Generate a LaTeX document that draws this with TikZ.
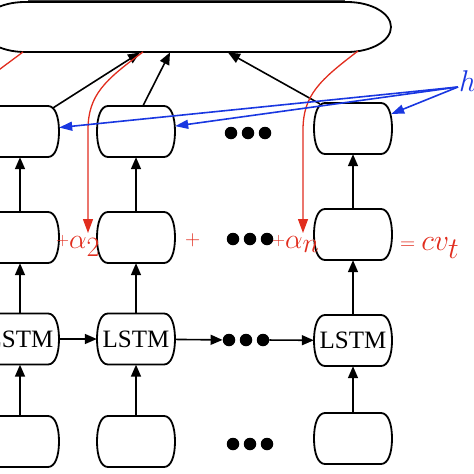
\RequirePackage{fix-cm}
\documentclass[tikz,border=0pt]{standalone}
\usepackage{fontspec}
\newfontfamily\lstmfont{Liberation Serif}
\usetikzlibrary{arrows.meta}
\definecolor{myred}{RGB}{225,45,30}
\definecolor{myblue}{RGB}{25,55,225}
\begin{document}
\begin{tikzpicture}[x=1pt,y=1pt,
  cell/.style={rectangle, minimum width=78pt, minimum height=51pt, inner sep=0pt, font=\lstmfont\fontsize{25}{25}\selectfont},
  cellline/.style={draw, line width=1.8pt, fill=white},
  blob/.style={circle, fill=black, minimum size=12.5pt, inner sep=0pt},
  arr/.style={line width=1.6pt, -{Triangle[length=12pt,width=10pt]}},
  barr/.style={myblue, line width=1.6pt, -{Triangle[length=13pt,width=9pt]}},
  rarr/.style={myred, line width=1.3pt, -{Triangle[length=14pt,width=10pt]}},
  rtext/.style={text=myred, inner sep=0pt, anchor=base west}
]
\useasboundingbox (0,0) rectangle (474,-474);

% top stadium
\fill[gray!55!black] (28,0) rectangle (345,-2.5);
\draw[line width=1.8pt, fill=white] (25,-2) -- (347,-2)
  arc[start angle=90,end angle=-90,x radius=44pt,y radius=25pt] -- (25,-52)
  arc[start angle=270,end angle=90,x radius=44pt,y radius=25pt] -- cycle;
\coordinate (e1) at (140,-52.5);
\coordinate (e2) at (170,-52.5);
\coordinate (e3) at (228,-52.5);
\coordinate (s1) at (23,-52);
\coordinate (s2) at (143,-52);
\coordinate (s3) at (358,-51);
\coordinate (s1end) at (-8,-75);
\coordinate (t2) at (88,-233);
\coordinate (t3) at (303,-233);

% cells (outline drawn below, then text on top)
\node[cell] (a1) at (20,-131.5) {};
\node[cell] (a2) at (136,-131.5) {};
\node[cell] (a3) at (353,-128.5) {};
\node[cell] (b1) at (20,-237.5) {};
\node[cell] (b2) at (136,-237.5) {};
\node[cell] (b3) at (353,-234.5) {};
\node[cell] (c1) at (20,-339) {};
\node[cell] (c2) at (136,-339) {};
\node[cell] (c3) at (353,-340.5) {};
\node[cell] (d1) at (20,-441.5) {};
\node[cell] (d2) at (136,-441.5) {};
\node[cell] (d3) at (353,-438.5) {};
\foreach \n in {a1,a2,a3,b1,b2,b3,c1,c2,c3,d1,d2,d3}{
  \draw[cellline, shift={(\n.center)}] (-28,25.5) -- (28,25.5)
    .. controls (35,25.5) and (39,15) .. (39,0)
    .. controls (39,-15) and (35,-25.5) .. (28,-25.5) -- (-28,-25.5)
    .. controls (-35,-25.5) and (-39,-15) .. (-39,0)
    .. controls (-39,15) and (-35,25.5) .. cycle;
}
\node[cell] (l1) at (c1) {LSTM};
\node[cell] (l2) at (c2) {LSTM};
\node[cell] (l3) at (c3) {LSTM};

% dots
\node[blob] (p11) at (231,-133) {};
\node[blob] (p12) at (248,-133) {};
\node[blob] (p13) at (265,-133) {};
\node[blob] (p21) at (233,-239) {};
\node[blob] (p22) at (250,-239) {};
\node[blob] (p23) at (267,-239) {};
\node[blob] (p31) at (229,-340) {};
\node[blob] (p32) at (246,-340) {};
\node[blob] (p33) at (263,-340) {};
\node[blob] (p41) at (233,-444) {};
\node[blob] (p42) at (250,-444) {};
\node[blob] (p43) at (267,-444) {};

% vertical arrows
\foreach \i in {1,2,3}{
  \draw[arr] (d\i.north) -- (c\i.south);
  \draw[arr] (c\i.north) -- (b\i.south);
  \draw[arr] (b\i.north) -- (a\i.south);
}
% horizontal
\draw[arr] (c1) -- (c2);
\draw[arr] (c2) -- (p31);
\draw[arr] (p33) -- (c3);

% to stadium
\draw[arr] ([xshift=-6pt,yshift=-2pt]a1.north east) -- (e1);
\draw[arr] ([xshift=7pt]a2.north) -- (e2);
\draw[arr] ([xshift=6pt,yshift=-1pt]a3.north west) -- (e3);

% red attention
\draw[myred, line width=1.3pt] (s1) -- (s1end);
\draw[rarr] (s2) .. controls (105,-80) and (88,-95) .. (88,-130) -- (t2);
\draw[rarr] (s3) .. controls (320,-80) and (303,-95) .. (303,-130) -- (t3);

% blue h
\node[text=myblue, anchor=base west, inner sep=0pt] (hlab) at (459,-91) {\fontsize{30}{30}\selectfont$h$};
\coordinate (hp) at (458,-87);
\draw[barr] (hp) -- (a1);
\draw[barr] (hp) -- (a2);
\draw[barr] (hp) -- ([yshift=-2pt,xshift=-1pt]a3.east |- 0,-112);

% red texts
\node[rtext] (al2) at (56,-248) {\raisebox{3pt}{\fontsize{18}{18}\selectfont$+$}\fontsize{28}{28}\selectfont$\alpha_{\textstyle 2}$};
\node[rtext] (pl) at (185,-245) {\fontsize{21}{21}\selectfont$+$};
\node[rtext] (aln) at (272,-248) {\raisebox{3pt}{\fontsize{18}{18}\selectfont$+$}\fontsize{28}{28}\selectfont$\alpha_{\textstyle n}$};
\node[rtext] (cv) at (400,-250) {\raisebox{0.5pt}{\fontsize{21}{21}\selectfont$=$}\hspace{6pt}\fontsize{30}{30}\selectfont$cv_{\textstyle t}$};
\end{tikzpicture}
\end{document}
